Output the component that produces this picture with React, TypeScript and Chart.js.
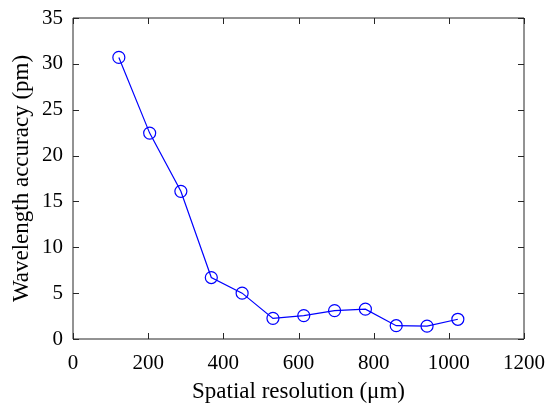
import React, { useEffect, useRef } from "react";
import { Chart, registerables } from "chart.js";

Chart.register(...registerables);

const xValues = [122, 204, 287, 368, 450, 532, 614, 696, 778, 860, 942, 1024];
const yValues = [30.7, 22.45, 16.1, 6.7, 5.0, 2.25, 2.55, 3.1, 3.25, 1.45, 1.4, 2.15];
const xTicks = [0, 200, 400, 600, 800, 1000, 1200];
const yTicks = [0, 5, 10, 15, 20, 25, 30, 35];

const FONT = "'Liberation Serif', 'Times New Roman', serif";

const boxTicks = {
  id: "boxTicks",
  afterDraw(chart: any) {
    const { ctx, chartArea: a, scales } = chart;
    const len = 6;
    ctx.save();
    ctx.strokeStyle = "#262626";
    ctx.lineWidth = 1;
    ctx.beginPath();
    ctx.rect(a.left, a.top, a.right - a.left, a.bottom - a.top);
    for (const v of xTicks) {
      const px = Math.round(scales.x.getPixelForValue(v)) + 0.5;
      ctx.moveTo(px, a.bottom);
      ctx.lineTo(px, a.bottom - len);
      ctx.moveTo(px, a.top);
      ctx.lineTo(px, a.top + len);
    }
    for (const v of yTicks) {
      const py = Math.round(scales.y.getPixelForValue(v)) + 0.5;
      ctx.moveTo(a.left, py);
      ctx.lineTo(a.left + len, py);
      ctx.moveTo(a.right, py);
      ctx.lineTo(a.right - len, py);
    }
    ctx.stroke();
    ctx.restore();
  },
};

export default function App() {
  const ref = useRef<HTMLCanvasElement | null>(null);
  useEffect(() => {
    document.body.style.margin = "0";
    const chart = new Chart(ref.current as HTMLCanvasElement, {
      type: "line",
      data: {
        datasets: [
          {
            data: xValues.map((x, i) => ({ x, y: yValues[i] })),
            borderColor: "#0000ff",
            borderWidth: 1.2,
            pointRadius: 6,
            pointBorderWidth: 1.2,
            pointBorderColor: "#0000ff",
            pointBackgroundColor: "rgba(0,0,0,0)",
            fill: false,
            tension: 0,
          },
        ],
      },
      options: {
        animation: false,
        responsive: false,
        maintainAspectRatio: false,
        layout: { padding: { top: 18, right: 26, left: 0, bottom: 0 } },
        plugins: { legend: { display: false }, tooltip: { enabled: false } },
        scales: {
          x: {
            type: "linear",
            min: 0,
            max: 1200,
            afterBuildTicks: (s: any) => {
              s.ticks = xTicks.map((v) => ({ value: v }));
            },
            afterFit: (s: any) => {
              s.height = 70;
              s.paddingLeft = 0;
              s.paddingRight = 0;
            },
            grid: { display: false, drawTicks: false },
            border: { display: false },
            ticks: {
              color: "#000",
              padding: 12,
              font: { family: FONT, size: 21 },
              callback: (v: any) => String(v),
            },
            title: {
              display: true,
              text: "Spatial resolution (μm)",
              color: "#000",
              padding: { top: 0, bottom: 3 },
              font: { family: FONT, size: 23 },
            },
          },
          y: {
            type: "linear",
            min: 0,
            max: 35,
            afterBuildTicks: (s: any) => {
              s.ticks = yTicks.map((v) => ({ value: v }));
            },
            afterFit: (s: any) => {
              s.width = 73;
              s.paddingTop = 0;
              s.paddingBottom = 0;
            },
            grid: { display: false, drawTicks: false },
            border: { display: false },
            ticks: {
              color: "#000",
              padding: 10,
              font: { family: FONT, size: 21 },
              callback: (v: any) => String(v),
            },
            title: {
              display: true,
              text: "Wavelength accuracy (pm)",
              color: "#000",
              padding: { top: 8, bottom: 0 },
              font: { family: FONT, size: 23 },
            },
          },
        },
      },
      plugins: [boxTicks],
    });
    return () => chart.destroy();
  }, []);
  return (
    <div style={{ position: "absolute", left: 0, top: 0, width: 550, height: 409, background: "#fff" }}>
      <canvas ref={ref} width={550} height={409} style={{ width: 550, height: 409 }} />
    </div>
  );
}
